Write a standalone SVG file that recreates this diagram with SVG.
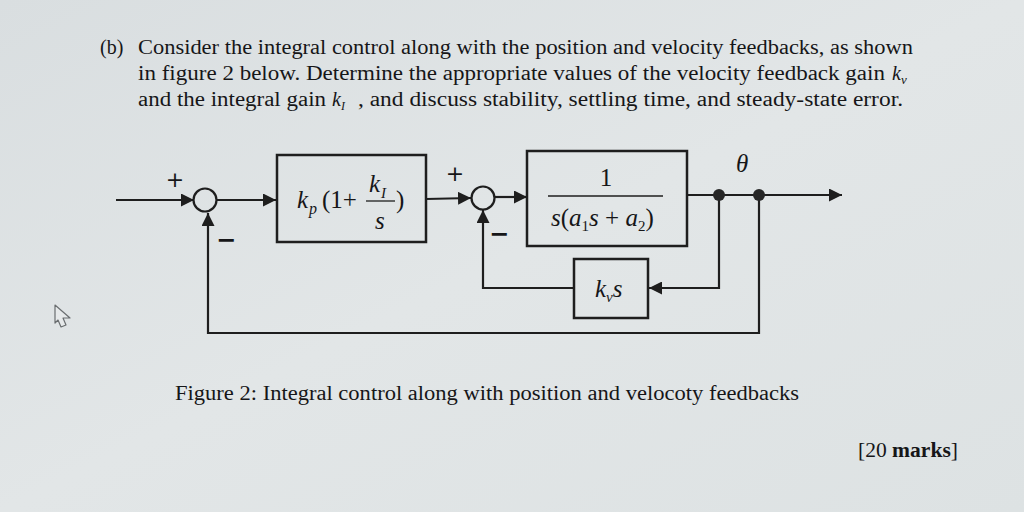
<svg xmlns="http://www.w3.org/2000/svg" width="1024" height="512" viewBox="0 0 1024 512">
<defs>
<linearGradient id="bg" x1="0" y1="0" x2="1" y2="1">
<stop offset="0" stop-color="#d9dee0"/>
<stop offset="0.5" stop-color="#e2e6e7"/>
<stop offset="1" stop-color="#dde2e3"/>
</linearGradient>
<marker id="arr" viewBox="0 0 10 10" refX="10" refY="5" markerWidth="13" markerHeight="13" markerUnits="userSpaceOnUse" orient="auto">
<path d="M0,0 L10,5 L0,10 z" fill="#1e1e1e"/>
</marker>
<style>
.t{font-family:"Liberation Serif","DejaVu Serif",serif;fill:#161618;font-size:20px}
.m{font-family:"Liberation Serif","DejaVu Serif",serif;fill:#161618;font-size:25px}
.i{font-style:italic}
.sg{font-family:"DejaVu Sans",sans-serif;fill:#161618;font-size:22px}
.mn{font-family:"DejaVu Sans",sans-serif;fill:#161618;font-size:24px;font-weight:bold}
.box{fill:none;stroke:#1e1e1e;stroke-width:2.5}
.w{fill:none;stroke:#1e1e1e;stroke-width:2.2}
.sum{fill:none;stroke:#1e1e1e;stroke-width:2.2}
.dot{fill:#262626}
</style>
</defs>
<rect width="1024" height="512" fill="url(#bg)"/>

<g id="question">
<text class="t" x="100" y="54">(b)</text>
<text class="t" x="138" y="54" textLength="775" lengthAdjust="spacingAndGlyphs">Consider the integral control along with the position and velocity feedbacks, as shown</text>
<text class="t" x="138" y="80" textLength="747" lengthAdjust="spacingAndGlyphs">in figure 2 below. Determine the appropriate values of the velocity feedback gain</text>
<text class="t i" x="892" y="80">k<tspan style="font-size:13px" dy="4">v</tspan></text>
<text class="t" x="138" y="106" textLength="188" lengthAdjust="spacingAndGlyphs">and the integral gain</text>
<text class="t i" x="332" y="106">k<tspan style="font-size:12px" dy="4">I</tspan></text>
<text class="t" x="358" y="106" textLength="545" lengthAdjust="spacingAndGlyphs">, and discuss stability, settling time, and steady-state error.</text>
</g>

<g id="connectors">
<line class="w" x1="116" y1="200" x2="194" y2="200" marker-end="url(#arr)"/>
<line class="w" x1="217" y1="200" x2="276" y2="200" marker-end="url(#arr)"/>
<line class="w" x1="426" y1="199" x2="471" y2="198" marker-end="url(#arr)"/>
<line class="w" x1="495" y1="197" x2="527" y2="197" marker-end="url(#arr)"/>
<line class="w" x1="687" y1="195" x2="842" y2="195" marker-end="url(#arr)"/>
<polyline class="w" points="719,195 719,288 649,288" marker-end="url(#arr)"/>
<polyline class="w" points="574,288 483,288 483,210" marker-end="url(#arr)"/>
<polyline class="w" points="759,195 759,333 208,333 208,213" marker-end="url(#arr)"/>
</g>

<g id="sum1">
<circle class="sum" cx="205" cy="200" r="11.5"/>
<text class="sg" x="175" y="187" text-anchor="middle">+</text>
<text class="mn" x="226" y="248" text-anchor="middle">−</text>
</g>

<g id="controller">
<rect class="box" x="277" y="155" width="149" height="87"/>
<text class="m i" x="297" y="208">k</text>
<text class="m i" x="309" y="214" style="font-size:16px">p</text>
<text class="m" x="322" y="208">(1+</text>
<text class="m i" x="369" y="192">k</text>
<text class="m i" x="381" y="198" style="font-size:15px">I</text>
<line x1="366" y1="201" x2="395" y2="201" stroke="#1e1e1e" stroke-width="1.3"/>
<text class="m i" x="375" y="229">s</text>
<text class="m" x="396" y="208">)</text>
</g>

<g id="sum2">
<circle class="sum" cx="483" cy="198" r="11.5"/>
<text class="sg" x="455" y="181" text-anchor="middle">+</text>
<text class="mn" x="499" y="242" text-anchor="middle">−</text>
</g>

<g id="plant">
<rect class="box" x="527" y="151" width="160" height="95"/>
<text class="m" x="606" y="186" text-anchor="middle">1</text>
<line x1="548" y1="196" x2="663" y2="196" stroke="#1e1e1e" stroke-width="1.3"/>
<text class="m" x="551" y="226"><tspan class="i">s</tspan>(<tspan class="i">a</tspan><tspan style="font-size:15px" dy="5">1</tspan><tspan class="i" dy="-5">s</tspan> + <tspan class="i">a</tspan><tspan style="font-size:15px" dy="5">2</tspan><tspan dy="-5">)</tspan></text>
</g>

<g id="output">
<circle class="dot" cx="719" cy="195" r="6"/>
<circle class="dot" cx="759" cy="195" r="6"/>
<text class="m i" x="736" y="172">θ</text>
</g>

<g id="velocity_feedback">
<rect class="box" x="574" y="259" width="74" height="59"/>
<text class="m i" x="595" y="297">k<tspan style="font-size:15px" dy="5">v</tspan><tspan dy="-5">s</tspan></text>
</g>

<g id="cursor">
<path d="M55,305 L70,318 L63,318 L66,325 L61,327 L58,320 L55,323 Z" fill="#e6e9ea" stroke="#6a6e70" stroke-width="1.2" stroke-linejoin="round"/>
</g>

<g id="caption">
<text class="t" x="175" y="400" textLength="624" lengthAdjust="spacingAndGlyphs">Figure 2: Integral control along with position and velocoty feedbacks</text>
<text class="t" x="858" y="457" textLength="100" lengthAdjust="spacingAndGlyphs">[20 <tspan font-weight="bold">marks</tspan>]</text>
</g>
</svg>
